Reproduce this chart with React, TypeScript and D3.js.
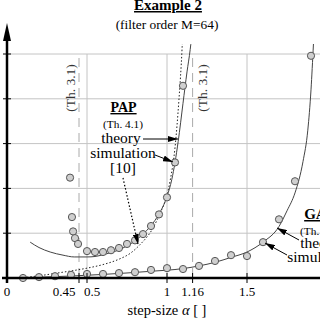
import React from "react";
import * as d3 from "d3";

// ---- data ----
const xTickValues = [0, 0.45, 0.5, 1, 1.16, 1.5];
const xTickLabels = ["0", "0.45", "0.5", "1", "1.16", "1.5"];
const gridXValues = [0.5, 1, 1.5, 2];
const gridYValues = [1, 2, 3, 4, 5];
const boundAlpha = [0.45, 1.16];
const boundLabels = ["(Th. 3.1)", "(Th. 3.1)"];

const papTheoryAlpha = [0.145, 0.2, 0.27, 0.35, 0.42, 0.5, 0.55, 0.6, 0.7, 0.8, 0.85, 0.9, 0.95, 1.0, 1.03, 1.07, 1.1, 1.125, 1.145, 1.16];
const papTheoryValue = [0.8, 0.68, 0.58, 0.51, 0.47, 0.47, 0.48, 0.52, 0.63, 0.83, 0.98, 1.17, 1.43, 1.82, 2.2, 3.05, 3.9, 4.6, 5.1, 5.6];

const papRefAlpha = [0.08, 0.2, 0.35, 0.5, 0.6, 0.7, 0.77, 0.83, 0.91, 0.956, 1.0, 1.02, 1.05, 1.075, 1.094, 1.1];
const papRefValue = [0, 0.05, 0.13, 0.22, 0.3, 0.42, 0.55, 0.74, 1.1, 1.44, 1.85, 2.18, 2.91, 4.0, 5.11, 5.6];

const papSimAlpha = [0.394, 0.406, 0.413, 0.425, 0.444, 0.5, 0.55, 0.6, 0.65, 0.7, 0.75, 0.8, 0.85, 0.9, 0.95, 1.0, 1.05, 1.1];
const papSimValue = [2.24, 1.36, 1.04, 0.89, 0.76, 0.6, 0.58, 0.58, 0.62, 0.67, 0.76, 0.84, 0.98, 1.16, 1.42, 1.8, 2.58, 4.29];

const gapTheoryAlpha = [0, 0.3, 0.6, 0.9, 1.1, 1.2, 1.3, 1.4, 1.5, 1.6, 1.7, 1.75, 1.8, 1.85, 1.88, 1.9, 1.915, 1.925];
const gapTheoryValue = [0, 0.03, 0.08, 0.15, 0.21, 0.27, 0.35, 0.46, 0.58, 0.8, 1.15, 1.5, 1.9, 2.6, 3.3, 4.2, 5.2, 5.9];

const gapSimAlpha = [0.1, 0.2, 0.3, 0.4, 0.5, 0.6, 0.7, 0.8, 0.9, 1.0, 1.1, 1.2, 1.3, 1.4, 1.5, 1.6, 1.7, 1.8, 1.9];
const gapSimValue = [0, 0.02, 0.04, 0.07, 0.09, 0.09, 0.11, 0.13, 0.18, 0.22, 0.2, 0.27, 0.38, 0.51, 0.49, 0.8, 1.31, 2.16, 4.96];

const FONT = "Liberation Serif, Times New Roman, serif";

export default function App() {
  const x = d3.scaleLinear().domain([0, 1]).range([7, 167]);
  const y = d3.scaleLinear().domain([0, 5]).range([278, 54]);

  const line = (a: number[], v: number[]) =>
    d3
      .line<number>()
      .x((_, i) => x(a[i]))
      .y((d) => y(d))
      .curve(d3.curveMonotoneX)(v) || "";

  const labelDx: Record<string, number> = { "0.45": -15, "0.5": 5 };
  const boundDx = [-9, 10];

  return (
    <div style={{ position: "fixed", left: 0, top: 0, width: 320, height: 320, background: "#fff" }}>
      <svg width={320} height={320} style={{ display: "block", fontFamily: FONT }}>
        <defs>
          <clipPath id="plot">
            <rect x={7} y={44} width={313} height={236} />
          </clipPath>
          <marker id="ah" viewBox="0 0 10 6" refX={10} refY={3} markerWidth={10} markerHeight={6} markerUnits="userSpaceOnUse" orient="auto">
            <path d="M0,0 L10,3 L0,6 z" fill="#000" />
          </marker>
        </defs>
        <rect width={320} height={320} fill="#fff" />

        {/* grid */}
        {gridYValues.map((g) => (
          <line key={"gy" + g} x1={7} x2={320} y1={y(g)} y2={y(g)} stroke="#c4c4c4" strokeWidth={1} />
        ))}
        {gridXValues.map((g) => (
          <line key={"gx" + g} x1={x(g)} x2={x(g)} y1={y(5)} y2={y(0)} stroke="#c4c4c4" strokeWidth={1} />
        ))}

        {/* stability bounds */}
        {boundAlpha.map((b, i) => (
          <g key={"b" + i}>
            <line x1={x(b)} x2={x(b)} y1={58} y2={y(0)} stroke="#aaa" strokeWidth={1} strokeDasharray="9,6" />
            <text
              transform={`translate(${x(b) + boundDx[i]},88) rotate(-90)`}
              textAnchor="middle"
              dominantBaseline="central"
              fontSize={13.5}
              fill="#333"
            >
              {boundLabels[i]}
            </text>
          </g>
        ))}

        {/* curves */}
        <g clipPath="url(#plot)">
          <path d={line(papRefAlpha, papRefValue)} fill="none" stroke="#222" strokeWidth={1} strokeDasharray="1.5,2" />
          <path d={line(papTheoryAlpha, papTheoryValue)} fill="none" stroke="#444" strokeWidth={1} />
          <path d={line(gapTheoryAlpha, gapTheoryValue)} fill="none" stroke="#444" strokeWidth={1} />
        </g>

        {/* simulation points */}
        {papSimAlpha.map((a, i) => (
          <circle key={"ps" + i} cx={x(a)} cy={y(papSimValue[i])} r={3.6} fill="#cfcfcf" stroke="#555" strokeWidth={1} />
        ))}
        {gapSimAlpha.map((a, i) => (
          <circle key={"gs" + i} cx={x(a)} cy={y(gapSimValue[i])} r={3.6} fill="#cfcfcf" stroke="#555" strokeWidth={1} />
        ))}

        {/* axes */}
        <line x1={2} x2={320} y1={y(0)} y2={y(0)} stroke="#000" strokeWidth={2.5} />
        <line x1={7} x2={7} y1={283} y2={36} stroke="#000" strokeWidth={2.5} />
        <path d="M7,23 L11,41 L3,41 z" fill="#000" />
        {gridYValues.map((g) => (
          <line key={"ty" + g} x1={3} x2={11} y1={y(g)} y2={y(g)} stroke="#000" strokeWidth={1} />
        ))}
        {xTickValues.map((t) => (
          <line key={"tx" + t} x1={x(t)} x2={x(t)} y1={273} y2={283} stroke="#000" strokeWidth={1} />
        ))}
        {xTickValues.map((t, i) => (
          <text key={"tl" + t} x={x(t) + (labelDx[xTickLabels[i]] || 0)} y={296} textAnchor="middle" fontSize={13}>
            {xTickLabels[i]}
          </text>
        ))}
        <text x={167} y={315} textAnchor="middle" fontSize={14.5}>
          step-size <tspan fontStyle="italic">α</tspan> [ ]
        </text>

        {/* title */}
        <text x={168} y={10} textAnchor="middle" fontSize={15} fontWeight="bold" textDecoration="underline">
          Example 2
        </text>
        <text x={167} y={29} textAnchor="middle" fontSize={13.4}>
          (filter order M=64)
        </text>

        {/* PAP annotation */}
        <text x={123.5} y={112} textAnchor="middle" fontSize={14} fontWeight="bold" textDecoration="underline">PAP</text>
        <text x={123} y={128} textAnchor="middle" fontSize={11.3}>(Th. 4.1)</text>
        <text x={121} y={143} textAnchor="middle" fontSize={15.5}>theory</text>
        <text x={123} y={158} textAnchor="middle" fontSize={15.5}>simulation</text>
        <text x={123} y={173} textAnchor="middle" fontSize={15.5}>[10]</text>
        <line x1={143} y1={139} x2={178} y2={139} stroke="#000" strokeWidth={1} markerEnd="url(#ah)" />
        <line x1={155} y1={155} x2={173} y2={162} stroke="#000" strokeWidth={1} markerEnd="url(#ah)" />
        <line x1={123} y1={178} x2={138} y2={244} stroke="#000" strokeWidth={1.2} strokeDasharray="1.5,2" markerEnd="url(#ah)" />

        {/* GAP annotation */}
        <text x={320} y={219} textAnchor="middle" fontSize={15} fontWeight="bold" textDecoration="underline">GAP</text>
        <text x={320} y={235} textAnchor="middle" fontSize={11.3}>(Th. 4.1)</text>
        <text x={320} y={248} textAnchor="middle" fontSize={15.5}>theory</text>
        <text x={320} y={262} textAnchor="middle" fontSize={15.5}>simulation</text>
        <line x1={299} y1={240} x2={277} y2={228} stroke="#000" strokeWidth={1} markerEnd="url(#ah)" />
        <line x1={287} y1={255} x2={265} y2={243} stroke="#000" strokeWidth={1} markerEnd="url(#ah)" />
      </svg>
    </div>
  );
}
